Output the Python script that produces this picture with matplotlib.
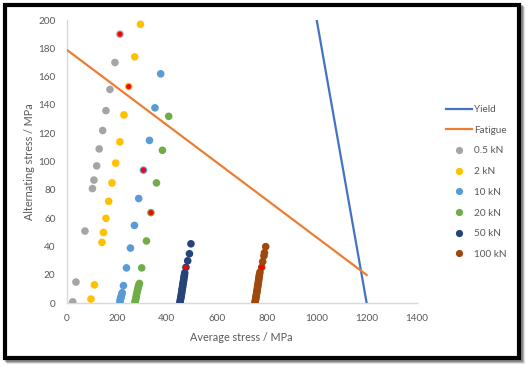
import matplotlib
matplotlib.use("Agg")
import matplotlib.pyplot as plt
from matplotlib.patches import Rectangle
from matplotlib.lines import Line2D

plt.rcParams['font.family'] = ['Lato', 'DejaVu Sans']

# ---- data ----
yield_x = [1000, 1200]
yield_y = [200, 0]
fatigue_x = [0, 1200]
fatigue_y = [179, 20]

gray_x = [24, 37, 73, 103, 109, 120, 130, 144, 157, 173, 193, 213]
gray_y = [1, 15, 51, 81, 87, 97, 109, 122, 136, 151, 170, 190]

yellow_x = [97, 111, 141, 147, 157, 168, 181, 196, 213, 229, 248, 272, 295]
yellow_y = [3, 13, 43, 50, 60, 72, 85, 99, 114, 133, 153, 174, 197]

blue_x = [213, 214, 215, 217, 218, 220, 222, 227, 239, 255, 271, 288, 307, 331, 353, 376]
blue_y = [1, 2, 3, 4, 5, 6, 7.5, 12.5, 25, 39, 55, 74, 94, 115, 138, 162]

green_x = [273, 275, 276, 278, 279, 281, 283, 285, 287, 289, 291, 300, 319, 337, 359, 383, 408]
green_y = [1, 2, 3, 4.5, 6, 7.5, 9, 10.5, 12, 13, 14, 25, 44, 64, 85, 108, 132]

navy_x = [453, 454, 455, 456, 457, 458, 459, 460, 461, 462, 463, 464, 465, 466, 467, 468,
          469, 470, 471, 472, 477, 484, 491, 497]
navy_y = [0.5, 1.5, 2.5, 3.5, 4.5, 5.5, 6.5, 7.5, 9, 10, 11, 12, 13.5, 14.5, 15.5, 16.5,
          18, 19, 20, 21.5, 25.4, 30, 35, 42]

brown_x = [753, 754, 755, 756, 757, 758, 759, 760, 761, 762, 763, 764, 765, 766, 767, 768,
           769, 770, 771, 773, 780, 784, 789, 791, 796]
brown_y = [0.3, 1.2, 2.2, 3.2, 4.2, 5.2, 6.3, 7.4, 8.5, 9.6, 10.7, 11.8, 13, 14.2, 15.4, 16.6,
           17.8, 19, 20.2, 22, 25.4, 29.4, 33.5, 35.7, 40]

red_x = [213, 248, 307, 337, 477, 780]
red_y = [190, 153, 94, 64, 25.4, 25.4]

series = [
    ("0.5 kN", gray_x, gray_y, "#A5A5A5"),
    ("2 kN", yellow_x, yellow_y, "#FFC000"),
    ("10 kN", blue_x, blue_y, "#5B9BD5"),
    ("20 kN", green_x, green_y, "#70AD47"),
    ("50 kN", navy_x, navy_y, "#264478"),
    ("100 kN", brown_x, brown_y, "#9E480E"),
]

W, H = 530, 369
fig = plt.figure(figsize=(W / 100, H / 100), dpi=100)
fig.patch.set_facecolor("white")

# frame with shadow
for i, a in enumerate([0.10, 0.18, 0.28]):
    off = 4 - i
    fig.patches.append(Rectangle(((5 + off) / W, 1 - (358 + off) / H), 514 / W, 353 / H,
                                 transform=fig.transFigure, facecolor="none",
                                 edgecolor=(0, 0, 0, a), linewidth=3.0, zorder=0))
fig.patches.append(Rectangle((5 / W, 1 - 358 / H), 514 / W, 353 / H,
                             transform=fig.transFigure, facecolor="white",
                             edgecolor="black", linewidth=3.0, zorder=1))

ax = fig.add_axes([66.7 / W, (H - 303.3) / H, 350 / W, 283.3 / H])
ax.set_facecolor("none")
ax.set_zorder(2)

ax.plot(yield_x, yield_y, color="#4472C4", lw=1.6, label="Yield", zorder=3)
ax.plot(fatigue_x, fatigue_y, color="#ED7D31", lw=1.6, label="Fatigue", zorder=3)
for name, xs, ys, c in series:
    ax.scatter(xs, ys, s=30, color=c, edgecolors="none", label=name, zorder=4)
ax.scatter(red_x, red_y, s=14, color="#FF0000", edgecolors="none", zorder=5)

ax.set_xlim(0, 1400)
ax.set_ylim(0, 200)
ax.set_xticks(range(0, 1401, 200))
ax.set_yticks(range(0, 201, 20))
for s in ["top", "right"]:
    ax.spines[s].set_visible(False)
for s in ["left", "bottom"]:
    ax.spines[s].set_color("#D9D9D9")
    ax.spines[s].set_linewidth(1.0)
ax.tick_params(length=0, labelsize=7.2, colors="#595959")
ax.tick_params(axis="y", pad=8)
ax.tick_params(axis="x", pad=7.5)
ax.set_xlabel("Average stress / MPa", fontsize=7.8, color="#595959", labelpad=6.5)
ax.set_ylabel("Alternating stress / MPa", fontsize=7.8, color="#595959", labelpad=2)

handles, labels = ax.get_legend_handles_labels()
new_handles = []
for h, (lab) in zip(handles, labels):
    if isinstance(h, Line2D):
        new_handles.append(h)
    else:
        c = h.get_facecolor()[0]
        new_handles.append(Line2D([], [], linestyle="none", marker="o", markersize=5.2,
                                  markerfacecolor=c, markeredgecolor="none"))
leg = fig.legend(new_handles, labels, loc="upper left",
                 bbox_to_anchor=(446 / W, 1 - 105 / H), frameon=False,
                 fontsize=7.2, handlelength=2.6, handletextpad=0.25,
                 labelspacing=1.17, borderpad=0, borderaxespad=0,
                 labelcolor="#595959")

fig.savefig("out.png", dpi=100, facecolor="white")
